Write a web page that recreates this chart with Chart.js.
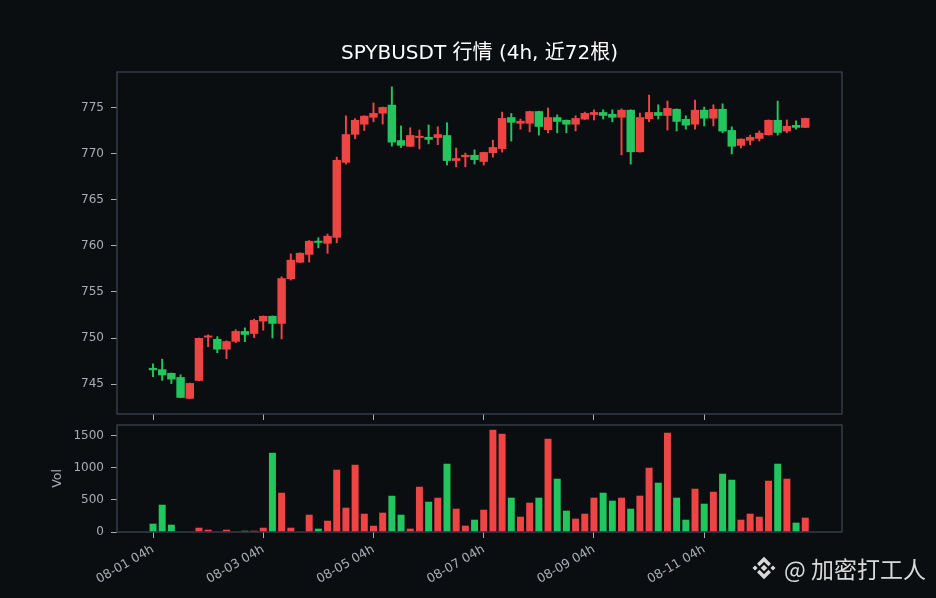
<!DOCTYPE html>
<html>
<head>
<meta charset="utf-8">
<script src="https://cdn.jsdelivr.net/npm/chart.js@4.4.1/dist/chart.umd.min.js"></script>
<style>
  html, body { margin: 0; padding: 0; background: #0b0e11; }
  body { width: 936px; height: 598px; position: relative; overflow: hidden; }
  #priceBox { position: absolute; left: 0; top: 0; width: 936px; height: 420px; }
  #volBox { position: absolute; left: 0; top: 420px; width: 936px; height: 178px; }
  #mark { position: absolute; left: 750px; top: 553px; height: 30px; display: flex; align-items: center;
          color: #d9d9d9; font-family: "Noto Sans CJK SC", "DejaVu Sans", sans-serif; font-size: 23px; }
  #mark svg { width: 28px; height: 28px; margin-right: 6px; }
</style>
</head>
<body>
<div id="priceBox"><canvas id="priceChart" width="936" height="420"></canvas></div>
<div id="volBox"><canvas id="volChart" width="936" height="178"></canvas></div>
<div id="mark">
  <svg viewBox="0 0 100 100">
    <g fill="#d9d9d9">
      <polygon points="50,38 62,50 50,62 38,50"/>
      <polygon points="18,41 27,50 18,59 9,50"/>
      <polygon points="82,41 91,50 82,59 73,50"/>
      <polygon points="50,10 75,35 66,44 50,28 34,44 25,35"/>
      <polygon points="50,90 75,65 66,56 50,72 34,56 25,65"/>
    </g>
  </svg>
  <span>@ 加密打工人</span>
</div>
<script>
// SPYBUSDT 4h candles, 72 bars
const opens = [
  746.75, 746.6, 746.2, 745.75, 743.4, 745.35, 750.05, 749.9, 748.75, 749.6,
  750.75, 750.45, 751.8, 752.4, 751.55, 756.4, 758.2, 759.05, 760.55, 760.25,
  760.9, 769.05, 772.1, 773.2, 773.95, 774.4, 775.35, 771.5, 770.8, 771.75,
  771.85, 771.75, 772.05, 769.25, 769.65, 769.9, 769.15, 770.1, 770.55, 774.0,
  773.3, 773.3, 774.65, 772.6, 774.0, 773.7, 773.2, 773.75, 774.25, 774.55,
  774.35, 773.95, 774.8, 770.2, 773.8, 774.55, 774.15, 774.9, 773.8, 773.2,
  774.8, 773.85, 774.9, 772.6, 770.9, 771.45, 771.65, 772.05, 773.7, 772.45,
  773.15, 772.85
];
const highs = [
  747.2, 747.7, 746.2, 746.0, 745.1, 750.0, 750.35, 750.15, 749.7, 750.9,
  751.1, 752.05, 752.4, 752.4, 756.65, 759.15, 759.25, 760.6, 760.9, 761.3,
  769.65, 774.15, 773.85, 774.15, 775.55, 775.1, 777.3, 773.05, 772.85, 772.6,
  773.15, 772.95, 773.4, 770.65, 770.1, 770.45, 770.2, 771.5, 774.55, 774.4,
  773.8, 774.65, 774.65, 775.0, 774.25, 773.7, 774.15, 774.55, 774.8, 774.8,
  774.8, 774.9, 774.8, 774.45, 776.4, 775.35, 775.75, 774.9, 774.15, 775.85,
  775.1, 775.35, 775.45, 772.95, 771.65, 772.05, 772.5, 773.7, 775.75, 773.7,
  773.6, 773.9
];
const lows = [
  745.8, 745.4, 745.05, 743.5, 743.4, 745.35, 749.05, 748.4, 747.75, 749.5,
  749.6, 750.05, 750.85, 750.0, 749.9, 756.3, 758.2, 758.25, 759.8, 759.2,
  760.35, 768.9, 771.65, 772.55, 773.5, 773.25, 770.85, 770.7, 770.8, 770.55,
  771.1, 771.0, 768.8, 768.6, 768.6, 768.9, 768.8, 769.65, 770.2, 771.4,
  772.7, 772.4, 772.05, 772.3, 772.3, 772.3, 772.5, 773.75, 773.7, 773.8,
  773.5, 769.9, 768.9, 770.2, 773.5, 773.8, 772.6, 772.5, 772.7, 772.7,
  773.05, 773.05, 772.3, 770.0, 770.65, 771.0, 771.4, 772.05, 772.05, 772.3,
  772.7, 772.85
];
const closes = [
  746.5, 745.95, 745.5, 743.5, 745.1, 750.0, 750.25, 748.75, 749.65, 750.75,
  750.35, 751.95, 752.4, 751.55, 756.5, 758.5, 759.25, 760.55, 760.35, 761.1,
  769.35, 772.15, 773.7, 774.15, 774.45, 775.1, 771.25, 770.9, 772.05, 771.95,
  771.55, 772.15, 769.25, 769.55, 769.9, 769.35, 770.2, 770.75, 773.9, 773.4,
  773.6, 774.65, 772.95, 774.0, 773.5, 773.2, 773.9, 774.45, 774.55, 774.15,
  773.95, 774.8, 770.2, 774.0, 774.55, 774.15, 775.0, 773.5, 773.1, 774.8,
  773.85, 774.9, 772.45, 770.8, 771.65, 771.85, 772.3, 773.7, 772.3, 773.05,
  772.85, 773.9
];
const volumes = [
  130, 426, 114, 0, 0, 67, 36, 0, 36, 0,
  20, 20, 67, 1237, 613, 67, 0, 270, 52, 176,
  973, 380, 1050, 285, 98, 302, 566, 270, 52, 707,
  473, 535, 1066, 364, 99, 192, 348, 1596, 1534, 536,
  239, 458, 536, 1456, 832, 333, 208, 286, 536, 614,
  489, 536, 364, 567, 1004, 770, 1550, 536, 192, 676,
  442, 629, 910, 816, 192, 286, 239, 801, 1066, 832,
  146, 224
];
const tickIdx = [0, 12, 24, 36, 48, 60];
const tickLabels = ['08-01 04h', '08-03 04h', '08-05 04h', '08-07 04h', '08-09 04h', '08-11 04h'];
const priceTicks = [745, 750, 755, 760, 765, 770, 775];
const volTicks = [0, 500, 1000, 1500];

const upColor = '#ef4444';
const downColor = '#22c55e';
const textColor = '#a9aeb6';
const frameColor = '#3d4350';
const font = { family: '"DejaVu Sans", sans-serif', size: 12 };

const barColors = closes.map((c, i) => c >= opens[i] ? upColor : downColor);

// box around the plot area
const framePlugin = {
    id: 'frame',
    afterDraw(chart) {
        const { ctx, chartArea: a } = chart;
        ctx.save();
        ctx.strokeStyle = frameColor;
        ctx.lineWidth = 1.3;
        ctx.strokeRect(a.left, a.top, a.right - a.left, a.bottom - a.top);
        ctx.restore();
    }
};

// keep the plot area where we put it, labels may overflow
function noPad(s) {
    s.paddingTop = 0;
    s.paddingBottom = 0;
    s.paddingLeft = 0;
    s.paddingRight = 0;
}

function xAxis(showLabels, height) {
    return {
        type: 'linear',
        min: -3.92,
        max: 75,
        offset: false,
        afterBuildTicks: (s) => { s.ticks = tickIdx.map(v => ({ value: v })); },
        afterFit: (s) => { s.height = height; noPad(s); },
        grid: { display: true, offset: false, drawOnChartArea: false, tickLength: 6, tickColor: textColor },
        border: { display: false },
        ticks: {
            display: showLabels,
            color: textColor,
            font: { family: font.family, size: 12.5 },
            padding: 4,
            minRotation: 30,
            maxRotation: 30,
            callback: (v) => tickLabels[tickIdx.indexOf(v)]
        }
    };
}

function yGrid() {
    return { display: true, drawOnChartArea: false, tickLength: 6, tickColor: textColor };
}

Chart.defaults.font.family = font.family;

new Chart(document.getElementById('priceChart'), {
    type: 'bar',
    data: {
        datasets: [
            {
                label: 'wick',
                data: lows.map((l, i) => ({ x: i, y: [l, highs[i]] })),
                backgroundColor: barColors,
                barThickness: 1.3,
                grouped: false,
                order: 2
            },
            {
                label: 'body',
                data: opens.map((o, i) => ({ x: i, y: [o, closes[i]] })),
                backgroundColor: barColors,
                categoryPercentage: 1,
                barPercentage: 0.92,
                minBarLength: 2,
                grouped: false,
                order: 1
            }
        ]
    },
    options: {
        responsive: false,
        animation: false,
        layout: { padding: { left: 0, right: 94, top: 0, bottom: 0 } },
        plugins: {
            legend: { display: false },
            tooltip: { enabled: false },
            title: {
                display: true,
                fullSize: false,
                text: 'SPYBUSDT 行情 (4h, 近72根)',
                color: '#ffffff',
                font: { family: '"DejaVu Sans", "Noto Sans CJK SC", sans-serif', size: 20, weight: 'normal' },
                padding: { top: 42, bottom: 6 }
            }
        },
        scales: {
            x: xAxis(false, 6),
            y: {
                min: 741.74,
                max: 778.91,
                afterBuildTicks: (s) => { s.ticks = priceTicks.map(v => ({ value: v })); },
                afterFit: (s) => { s.width = 117; noPad(s); },
                grid: yGrid(),
                border: { display: false },
                ticks: { color: textColor, font: font, padding: 7 }
            }
        }
    },
    plugins: [framePlugin]
});

new Chart(document.getElementById('volChart'), {
    type: 'bar',
    data: {
        datasets: [{
            label: 'Vol',
            data: volumes.map((v, i) => ({ x: i, y: v })),
            backgroundColor: barColors,
            categoryPercentage: 1,
            barPercentage: 0.76
        }]
    },
    options: {
        responsive: false,
        animation: false,
        layout: { padding: { left: 46, right: 94, top: 5, bottom: 0 } },
        plugins: {
            legend: { display: false },
            tooltip: { enabled: false }
        },
        scales: {
            x: xAxis(true, 66),
            y: {
                min: 0,
                max: 1671,
                afterBuildTicks: (s) => { s.ticks = volTicks.map(v => ({ value: v })); },
                afterFit: (s) => { s.width = 71; noPad(s); },
                grid: yGrid(),
                border: { display: false },
                title: { display: true, text: 'Vol', color: textColor, font: { size: 12.5 } },
                ticks: { color: textColor, font: font, padding: 7, callback: (v) => String(v) }
            }
        }
    },
    plugins: [framePlugin]
});
</script>
</body>
</html>
